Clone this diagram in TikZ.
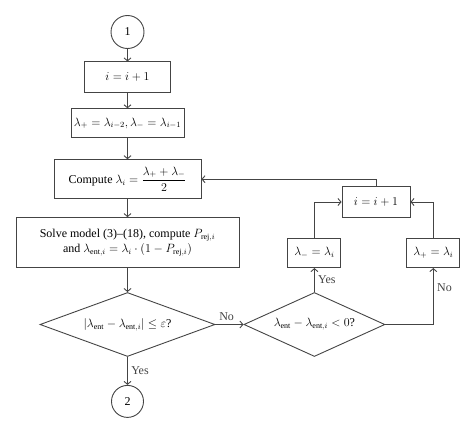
\documentclass[tikz,border=0pt]{standalone}
\usepackage{amsmath}
\usepackage{fontspec}
\setmainfont{Liberation Serif}
\usetikzlibrary{arrows.meta,positioning,shapes.geometric}
\definecolor{lineg}{HTML}{444444}

\begin{document}
\begin{tikzpicture}[
  x=1pt,y=-1pt,
  font=\fontsize{12}{15}\selectfont,
  box/.style={draw=lineg,line width=0.9pt,align=center,inner sep=2pt},
  dec/.style={draw=lineg,line width=0.9pt,diamond,inner sep=0pt,align=center},
  conn/.style={draw=lineg,line width=0.9pt,circle,inner sep=0pt,minimum size=33pt},
  arr/.style={-{Straight Barb[length=3pt,width=7pt]},line width=0.9pt,lineg}
]
  \useasboundingbox (0,0) rectangle (474,428);
  % main column
  \node[conn] (start) at (127.5,32) {1};
  \node[box,minimum width=86pt,minimum height=31pt,below=12.5pt of start] (inc) {$i=i+1$};
  \node[box,minimum width=113pt,minimum height=29pt,below=15pt of inc] (bounds) {$\lambda_+=\lambda_{i-2},\lambda_-=\lambda_{i-1}$};
  \node[box,minimum width=147pt,minimum height=39pt,below=21pt of bounds] (comp) {Compute $\lambda_i=\dfrac{\lambda_++\lambda_-}{2}$};
  \node[box,minimum width=223pt,minimum height=50pt,below=18pt of comp] (solve) {Solve model (3)--(18), compute $P_{\mathrm{rej},i}$\\
    and $\lambda_{\mathrm{ent},i}=\lambda_i\cdot(1-P_{\mathrm{rej},i})$};
  \node[dec,aspect=2.73,minimum width=175pt,minimum height=64pt,below=24pt of solve] (test) {$|\lambda_{\mathrm{ent}}-\lambda_{\mathrm{ent},i}|\le\varepsilon$?};
  \node[conn,minimum size=32pt,below=28pt of test] (stop) {2};
  % bisection branch
  \node[dec,aspect=2.2,minimum width=141pt,minimum height=64pt,right=28pt of test] (sign) {$\lambda_{\mathrm{ent}}-\lambda_{\mathrm{ent},i}<0$?};
  \node[box,minimum width=53pt,minimum height=29pt,above=24pt of sign] (lower) {$\lambda_-=\lambda_i$};
  \node[box,minimum width=53pt,minimum height=29pt,right=65pt of lower] (upper) {$\lambda_+=\lambda_i$};
  \node[box,minimum width=68pt,minimum height=31pt] (incb) at (376,202) {$i=i+1$};
  % connectors
  \draw[arr] (start) -- (inc);
  \draw[arr] (inc) -- (bounds);
  \draw[arr] (bounds) -- (comp);
  \draw[arr] (comp) -- (solve);
  \draw[arr] (solve) -- (test);
  \draw[arr] (test.south) -- node[right]{Yes} (stop.north);
  \draw[arr] (test.east) -- node[above,pos=0.4]{No} (sign.west);
  \draw[arr] (sign.north) -- node[right]{Yes} (lower.south);
  \draw[arr] (sign.east) -| node[right,pos=0.83]{No} (upper.south);
  \draw[arr] (lower.north) |- (incb.west);
  \draw[arr] (upper.north) |- (incb.east);
  \draw[arr] (incb.north) |- (comp.east);
\end{tikzpicture}
\end{document}
